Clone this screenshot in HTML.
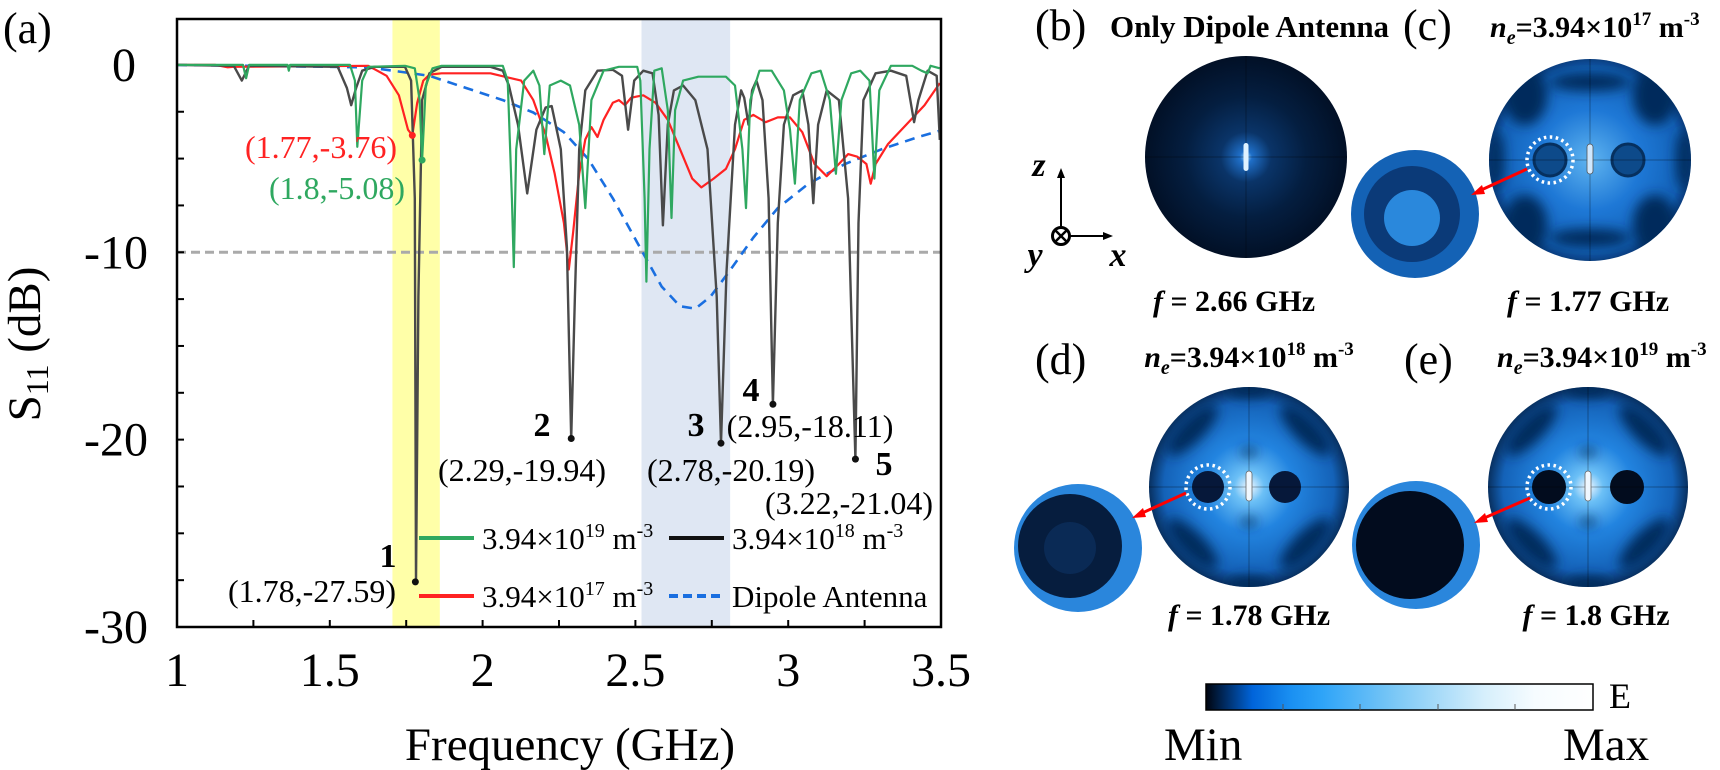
<!DOCTYPE html>
<html><head><meta charset="utf-8"><style>
html,body{margin:0;padding:0;background:#fff;width:1720px;height:770px;overflow:hidden;font-family:"Liberation Serif","Times New Roman",serif}
svg,svg text,svg tspan{font-family:"Liberation Serif","Times New Roman",serif}
</style></head><body>
<svg id="fig" width="1720" height="770" viewBox="0 0 1720 770" xmlns="http://www.w3.org/2000/svg" font-family="'Liberation Serif', 'Times New Roman', serif">
<defs>
<linearGradient id="cbar" x1="0" x2="1" y1="0" y2="0">
<stop offset="0" stop-color="#00040e"/><stop offset="0.12" stop-color="#0064da"/><stop offset="0.22" stop-color="#1a90f2"/><stop offset="0.3" stop-color="#2ea4f8"/><stop offset="0.5" stop-color="#80caf6"/><stop offset="0.72" stop-color="#d6effc"/><stop offset="0.85" stop-color="#f6fcff"/><stop offset="1" stop-color="#fff"/>
</linearGradient>
<radialGradient id="gB" cx="0.5" cy="0.5" r="0.5"><stop offset="0" stop-color="#8fd0ff"/><stop offset="0.06" stop-color="#1f6fc8"/><stop offset="0.25" stop-color="#0a3468"/><stop offset="0.6" stop-color="#041e40"/><stop offset="1" stop-color="#021026"/></radialGradient>
<radialGradient id="gC" cx="0.5" cy="0.5" r="0.5"><stop offset="0" stop-color="#5fb4f0"/><stop offset="0.5" stop-color="#1e78d6"/><stop offset="0.9" stop-color="#1262b8"/><stop offset="1" stop-color="#0a3f80"/></radialGradient>
<radialGradient id="gD" cx="0.5" cy="0.5" r="0.5"><stop offset="0" stop-color="#f2f8ff"/><stop offset="0.15" stop-color="#6cc0f6"/><stop offset="0.45" stop-color="#2284e0"/><stop offset="0.85" stop-color="#1462b8"/><stop offset="1" stop-color="#083060"/></radialGradient>
<filter id="blur6"><feGaussianBlur stdDeviation="6"/></filter>
<clipPath id="plotclip"><rect x="177" y="19" width="764" height="608"/></clipPath>
<clipPath id="cc"><circle cx="1590" cy="160" r="101"/></clipPath>
<clipPath id="cd"><circle cx="1249" cy="487" r="100"/></clipPath>
<clipPath id="ce"><circle cx="1588" cy="487" r="100"/></clipPath>
</defs>

<text x="3" y="43" font-size="44">(a)</text>
<g id="plot"></g>

<g>
<text x="1035" y="40" font-size="44">(b)</text>
<text x="1110" y="37" font-size="31" font-weight="bold">Only Dipole Antenna</text>
<text x="1403" y="40" font-size="44">(c)</text>
<text x="1490" y="37" font-size="30" font-weight="bold"><tspan font-style="italic">n</tspan><tspan font-style="italic" font-size="20" dy="7">e</tspan><tspan dy="-7">=3.94×10</tspan><tspan font-size="19" dy="-12">17</tspan><tspan dy="12"> m</tspan><tspan font-size="19" dy="-12">-3</tspan></text>

<g>
<circle cx="1246" cy="157" r="101" fill="url(#gB)"/>
<line x1="1145" y1="157" x2="1347" y2="157" stroke="#000" stroke-opacity="0.3" stroke-width="1"/>
<line x1="1246" y1="56" x2="1246" y2="258" stroke="#000" stroke-opacity="0.3" stroke-width="1"/>
<rect x="1243.5" y="143" width="5" height="28" rx="2.5" fill="#dff2ff"/>
</g>

<g>
<line x1="1061" y1="227" x2="1061" y2="174" stroke="#000" stroke-width="2"/>
<polygon points="1061,168 1057,178 1065,178" fill="#000"/>
<line x1="1070" y1="236" x2="1106" y2="236" stroke="#000" stroke-width="2"/>
<polygon points="1113,236 1103,232 1103,240" fill="#000"/>
<circle cx="1061" cy="236" r="8.5" fill="none" stroke="#000" stroke-width="3"/>
<line x1="1055" y1="230" x2="1067" y2="242" stroke="#000" stroke-width="2.5"/>
<line x1="1067" y1="230" x2="1055" y2="242" stroke="#000" stroke-width="2.5"/>
<text x="1039" y="176" font-size="34" font-style="italic" font-weight="bold" text-anchor="middle">z</text>
<text x="1035" y="266" font-size="34" font-style="italic" font-weight="bold" text-anchor="middle">y</text>
<text x="1118" y="266" font-size="34" font-style="italic" font-weight="bold" text-anchor="middle">x</text>
</g>

<g>
<circle cx="1415" cy="214" r="64" fill="#1462b5"/>
<circle cx="1412" cy="214" r="48" fill="#0b3a78"/>
<circle cx="1412" cy="218" r="28" fill="#2a88dc"/>
</g>
<g>
<circle cx="1590" cy="160" r="101" fill="url(#gC)"/>
<g clip-path="url(#cc)" filter="url(#blur6)" fill="#052a5c">
<ellipse cx="1525" cy="95" rx="22" ry="30"/><ellipse cx="1655" cy="95" rx="22" ry="30"/>
<ellipse cx="1525" cy="225" rx="22" ry="30"/><ellipse cx="1655" cy="225" rx="22" ry="30"/>
<ellipse cx="1590" cy="82" rx="40" ry="9"/><ellipse cx="1590" cy="238" rx="40" ry="9"/>
<ellipse cx="1496" cy="160" rx="8" ry="30"/><ellipse cx="1684" cy="160" rx="8" ry="30"/>
</g>
<circle cx="1550" cy="160" r="16" fill="#0d4a8a" stroke="#06305f" stroke-width="3"/>
<circle cx="1628" cy="160" r="16" fill="#0d4a8a" stroke="#06305f" stroke-width="3"/>
<line x1="1489" y1="160" x2="1691" y2="160" stroke="#000" stroke-opacity="0.3"/>
<line x1="1590" y1="59" x2="1590" y2="261" stroke="#000" stroke-opacity="0.3"/>
<rect x="1587" y="144" width="6" height="30" rx="3" fill="#cfe8ff" stroke="#555" stroke-width="0.8"/>
<circle cx="1550" cy="160" r="23" fill="none" stroke="#fff" stroke-width="3.5" stroke-dasharray="2.5 3.5"/>
<line x1="1527" y1="169" x2="1479" y2="191" stroke="#f00" stroke-width="3"/>
<polygon points="1471,195 1482,185 1485,194" fill="#f00"/>
</g>
<text x="1234" y="311" font-size="30" font-weight="bold" text-anchor="middle"><tspan font-style="italic">f</tspan> = 2.66 GHz</text>
<text x="1588" y="311" font-size="30" font-weight="bold" text-anchor="middle"><tspan font-style="italic">f</tspan> = 1.77 GHz</text>

<text x="1035" y="374" font-size="44">(d)</text>
<text x="1249" y="367" font-size="30" font-weight="bold" text-anchor="middle"><tspan font-style="italic">n</tspan><tspan font-style="italic" font-size="20" dy="7">e</tspan><tspan dy="-7">=3.94×10</tspan><tspan font-size="19" dy="-12">18</tspan><tspan dy="12"> m</tspan><tspan font-size="19" dy="-12">-3</tspan></text>
<text x="1404" y="374" font-size="44">(e)</text>
<text x="1497" y="367" font-size="30" font-weight="bold"><tspan font-style="italic">n</tspan><tspan font-style="italic" font-size="20" dy="7">e</tspan><tspan dy="-7">=3.94×10</tspan><tspan font-size="19" dy="-12">19</tspan><tspan dy="12"> m</tspan><tspan font-size="19" dy="-12">-3</tspan></text>

<g>
<circle cx="1078" cy="548" r="64" fill="#2a86dc"/>
<circle cx="1070" cy="546" r="52" fill="#061d3e"/>
<circle cx="1070" cy="548" r="26" fill="#0a2a55"/>
</g>
<g>
<circle cx="1249" cy="487" r="100" fill="url(#gD)"/>
<g clip-path="url(#cd)" filter="url(#blur6)" fill="#052a5c">
<ellipse cx="1192" cy="430" rx="12" ry="34" transform="rotate(45 1192 430)"/><ellipse cx="1306" cy="430" rx="12" ry="34" transform="rotate(-45 1306 430)"/>
<ellipse cx="1192" cy="544" rx="12" ry="34" transform="rotate(-45 1192 544)"/><ellipse cx="1306" cy="544" rx="12" ry="34" transform="rotate(45 1306 544)"/>
<ellipse cx="1249" cy="390" rx="22" ry="8"/><ellipse cx="1249" cy="584" rx="22" ry="8"/>
<ellipse cx="1249" cy="452" rx="8" ry="4"/><ellipse cx="1249" cy="522" rx="8" ry="4"/>
</g>
<circle cx="1208" cy="487" r="16" fill="#06183a"/>
<circle cx="1285" cy="487" r="16" fill="#06183a"/>
<line x1="1149" y1="487" x2="1349" y2="487" stroke="#000" stroke-opacity="0.3"/>
<line x1="1249" y1="387" x2="1249" y2="587" stroke="#000" stroke-opacity="0.3"/>
<rect x="1246" y="471" width="6" height="30" rx="3" fill="#f0f8ff" stroke="#666" stroke-width="0.8"/>
<circle cx="1208" cy="487" r="22" fill="none" stroke="#fff" stroke-width="3.5" stroke-dasharray="2.5 3.5"/>
<line x1="1186" y1="493" x2="1140" y2="514" stroke="#f00" stroke-width="3"/>
<polygon points="1132,518 1143,508 1146,517" fill="#f00"/>
</g>
<g>
<circle cx="1416" cy="545" r="64" fill="#2a86dc"/>
<circle cx="1410" cy="545" r="54" fill="#020c1e"/>
</g>
<g>
<circle cx="1588" cy="487" r="100" fill="url(#gD)"/>
<g clip-path="url(#ce)" filter="url(#blur6)" fill="#052a5c">
<ellipse cx="1531" cy="430" rx="12" ry="34" transform="rotate(45 1531 430)"/><ellipse cx="1645" cy="430" rx="12" ry="34" transform="rotate(-45 1645 430)"/>
<ellipse cx="1531" cy="544" rx="12" ry="34" transform="rotate(-45 1531 544)"/><ellipse cx="1645" cy="544" rx="12" ry="34" transform="rotate(45 1645 544)"/>
<ellipse cx="1588" cy="390" rx="22" ry="8"/><ellipse cx="1588" cy="584" rx="22" ry="8"/>
<ellipse cx="1588" cy="452" rx="8" ry="4"/><ellipse cx="1588" cy="522" rx="8" ry="4"/>
</g>
<circle cx="1549" cy="487" r="17" fill="#020c1e"/>
<circle cx="1627" cy="487" r="17" fill="#020c1e"/>
<line x1="1488" y1="487" x2="1688" y2="487" stroke="#000" stroke-opacity="0.3"/>
<line x1="1588" y1="387" x2="1588" y2="587" stroke="#000" stroke-opacity="0.3"/>
<rect x="1585" y="471" width="6" height="30" rx="3" fill="#f0f8ff" stroke="#666" stroke-width="0.8"/>
<circle cx="1549" cy="487" r="22" fill="none" stroke="#fff" stroke-width="3.5" stroke-dasharray="2.5 3.5"/>
<line x1="1530" y1="498" x2="1482" y2="519" stroke="#f00" stroke-width="3"/>
<polygon points="1474,523 1485,513 1488,522" fill="#f00"/>
</g>
<text x="1249" y="625" font-size="30" font-weight="bold" text-anchor="middle"><tspan font-style="italic">f</tspan> = 1.78 GHz</text>
<text x="1596" y="625" font-size="30" font-weight="bold" text-anchor="middle"><tspan font-style="italic">f</tspan> = 1.8 GHz</text>

<g>
<rect x="1206" y="684" width="387" height="26" fill="url(#cbar)" stroke="#000" stroke-width="1.5"/>
<line x1="1283" y1="704" x2="1283" y2="710" stroke="#555"/><line x1="1360" y1="704" x2="1360" y2="710" stroke="#555"/><line x1="1438" y1="704" x2="1438" y2="710" stroke="#555"/><line x1="1515" y1="704" x2="1515" y2="710" stroke="#555"/>
<text x="1609" y="708" font-size="36">E</text>
<text x="1164" y="760" font-size="47">Min</text>
<text x="1563" y="760" font-size="47">Max</text>
</g>
</g>
</svg>
<script>
// ---- data ----
const blackF=[1.0,1.186,1.212,1.236,1.526,1.556,1.57,1.586,1.606,1.646,1.746,1.766,1.778,1.782,1.79,1.802,1.826,1.866,2.026,2.066,2.086,2.116,2.146,2.176,2.206,2.226,2.256,2.276,2.29,2.302,2.316,2.336,2.376,2.426,2.456,2.476,2.496,2.526,2.556,2.576,2.59,2.606,2.626,2.656,2.696,2.736,2.766,2.78,2.798,2.826,2.846,2.856,2.87,2.882,2.896,2.916,2.936,2.95,2.966,2.986,3.016,3.046,3.066,3.082,3.098,3.126,3.166,3.196,3.22,3.23,3.246,3.286,3.336,3.386,3.412,3.426,3.456,3.486,3.496];
const blackDB=[0,-0.05,-0.84,-0.05,-0.1,-1.23,-2.15,-1.23,-0.31,-0.1,-0.1,-0.84,-7.12,-27.59,-12.36,-1.88,-0.45,-0.1,-0.1,-0.31,-1.1,-3.19,-6.86,-3.46,-2.28,-2.2,-4.5,-9.74,-19.94,-12.36,-4.5,-1.36,-0.31,-0.26,-0.58,-3.46,-0.84,-0.31,-0.45,-2.67,-8.56,-3.19,-1.36,-1.1,-1.88,-4.5,-12.36,-20.19,-11.05,-3.19,-1.36,-1.75,-3.19,-1.36,-0.84,-1.88,-7.12,-18.11,-8.43,-3.19,-1.62,-1.36,-3.19,-7.38,-3.19,-1.36,-1.88,-7.12,-21.04,-8.43,-1.88,-0.45,-0.31,-0.58,-3.06,-1.88,-0.31,-0.58,-4.0];
const greenF=[1.0,1.216,1.226,1.236,1.362,1.366,1.37,1.566,1.582,1.59,1.606,1.626,1.746,1.778,1.794,1.802,1.814,1.836,1.866,2.066,2.082,2.096,2.102,2.11,2.136,2.166,2.186,2.202,2.22,2.256,2.286,2.316,2.336,2.356,2.396,2.446,2.506,2.516,2.53,2.536,2.546,2.562,2.586,2.606,2.618,2.63,2.656,2.706,2.796,2.826,2.85,2.862,2.876,2.906,2.946,2.986,3.006,3.022,3.038,3.076,3.106,3.136,3.156,3.174,3.206,3.236,3.266,3.282,3.298,3.336,3.406,3.436,3.456,3.466,3.496];
const greenDB=[0,0,-0.71,0,0,-0.31,0,0,-0.84,-4.37,-0.84,-0.1,-0.05,-0.18,-1.88,-5.08,-1.1,-0.18,-0.05,-0.05,-0.84,-7.12,-10.79,-4.5,-0.84,-0.31,-1.1,-4.76,-1.1,-0.84,-1.1,-3.19,-7.64,-1.88,-0.31,-0.1,-0.1,-0.84,-7.12,-11.57,-4.5,-0.31,-0.18,-2.41,-8.17,-2.41,-0.84,-0.63,-0.63,-1.1,-4.5,-7.64,-1.88,-0.31,-0.31,-1.36,-3.46,-6.34,-1.88,-0.45,-0.31,-1.88,-5.81,-1.88,-0.45,-0.31,-0.84,-6.07,-1.36,-0.05,-0.05,-0.31,-0.45,-0.05,-0.18];
const redF=[1.0,1.126,1.166,1.186,1.626,1.686,1.726,1.756,1.77,1.786,1.806,1.826,1.866,2.026,2.126,2.166,2.206,2.236,2.266,2.282,2.296,2.316,2.336,2.356,2.376,2.396,2.426,2.446,2.466,2.486,2.526,2.566,2.606,2.646,2.686,2.716,2.756,2.796,2.826,2.856,2.886,2.926,2.966,3.006,3.046,3.086,3.126,3.166,3.196,3.226,3.256,3.27,3.286,3.326,3.386,3.446,3.496];
const redDB=[0,0,-0.13,-0.1,-0.05,-0.58,-1.62,-3.46,-3.76,-2.02,-0.84,-0.52,-0.45,-0.45,-0.84,-1.88,-3.72,-5.81,-8.43,-10.92,-8.95,-5.81,-3.98,-3.32,-3.85,-2.93,-2.02,-1.88,-2.15,-1.75,-1.62,-2.02,-2.93,-4.5,-6.07,-6.54,-6.07,-5.55,-4.5,-2.93,-2.67,-3.06,-2.8,-2.8,-3.59,-5.29,-5.94,-5.29,-4.76,-4.9,-5.29,-6.34,-5.29,-4.24,-3.19,-2.15,-0.97];
const dipoleF=[1.0,1.626,1.826,1.946,2.066,2.166,2.266,2.346,2.426,2.506,2.586,2.646,2.696,2.746,2.806,2.886,2.966,3.066,3.186,3.306,3.426,3.496];
const dipoleDB=[0,-0.13,-0.58,-1.23,-1.88,-2.54,-3.59,-5.03,-7.12,-9.48,-11.83,-12.88,-13.01,-12.36,-11.05,-9.21,-7.64,-6.34,-5.29,-4.5,-3.85,-3.51];
const xTicks=[1,1.5,2,2.5,3,3.5];
const xTickLabels=["1","1.5","2","2.5","3","3.5"];
const yTicks=[0,-10,-20,-30];
const yTickLabels=["0","-10","-20","-30"];
const bands=[[1.705,1.86],[2.52,2.81]];
const dipF=[1.78,2.29,2.78,2.95,3.22];
const dipDB=[-27.59,-19.94,-20.19,-18.11,-21.04];

const X0=177,X1=941,Y0=19,Y1=627;
const xmin=1,xmax=3.5,ymin=-30,ymax=2.45;
const sx=v=>X0+(v-xmin)/(xmax-xmin)*(X1-X0);
const sy=v=>Y1-(v-ymin)/(ymax-ymin)*(Y1-Y0);
const NS="http://www.w3.org/2000/svg";
const FONT="'Liberation Serif', 'Times New Roman', serif";
const g=document.getElementById('plot');
function mk(tag,attrs,parent){const e=document.createElementNS(NS,tag);for(const k in attrs)e.setAttribute(k,attrs[k]);if(tag==='text')e.setAttribute('font-family',FONT);(parent||g).appendChild(e);return e;}

bands.forEach((b,i)=>{
  const r=mk('rect',{x:sx(b[0]),y:Y0,width:sx(b[1])-sx(b[0]),height:Y1-Y0,fill:i===0?'#ffffa8':'#dfe7f3'});
  
  
});
const ref=mk('line',{x1:X0,x2:X1,y1:sy(-10),y2:sy(-10),stroke:'#aaa','stroke-width':3,'stroke-dasharray':'9 5'});



function series(F,D,color,name,dash,w){
  const d=F.map((f,i)=>(i?'L':'M')+sx(f).toFixed(1)+','+sy(D[i]).toFixed(1)).join('');
  const p=mk('path',{d:d,fill:'none',stroke:color,'stroke-width':w,'stroke-linejoin':'round','clip-path':'url(#plotclip)'});
  if(dash)p.setAttribute('stroke-dasharray',dash);
  
  
}
series(dipoleF,dipoleDB,'#1a6fe0','dipole-antenna-line','10 7',2.6);
series(redF,redDB,'#f22','ne-1e17-line',null,2.2);
series(blackF,blackDB,'#4a4a4a','ne-1e18-line',null,2.4);
series(greenF,greenDB,'#2fa860','ne-1e19-line',null,2.2);

const fr=mk('rect',{x:X0,y:Y0,width:X1-X0,height:Y1-Y0,fill:'none',stroke:'#000','stroke-width':2.5});


for(let v=1.25;v<3.5;v+=0.25){const t=mk('line',{x1:sx(v),x2:sx(v),y1:Y1,y2:Y1-7,stroke:'#000','stroke-width':2});}
for(let v=-27.5;v<0;v+=2.5){const t=mk('line',{x1:X0,x2:X0+7,y1:sy(v),y2:sy(v),stroke:'#000','stroke-width':2});}
xTicks.forEach((v,i)=>{const t=mk('text',{x:sx(v),y:686,'font-size':48,'text-anchor':'middle'});t.textContent=xTickLabels[i];});
yTicks.forEach((v,i)=>{const t=mk('text',{x:v===0?136:148,y:sy(v)+16,'font-size':48,'text-anchor':'end'});t.textContent=yTickLabels[i];});
const xt=mk('text',{x:570,y:760,'font-size':47,'text-anchor':'middle'});xt.textContent='Frequency (GHz)';


const yt=mk('text',{x:0,y:0,'font-size':47,'text-anchor':'middle',transform:'translate(40,344) rotate(-90)'});
yt.innerHTML='S<tspan font-size="32" dy="8">11</tspan><tspan dy="-8"> (dB)</tspan>';



dipF.forEach((f,i)=>{const c=mk('circle',{cx:sx(f),cy:sy(dipDB[i]),r:3.5,fill:'#111'});});
const m1=mk('circle',{cx:sx(1.77),cy:sy(-3.76),r:3.5,fill:'#f22'});
const m2=mk('circle',{cx:sx(1.802),cy:sy(-5.08),r:3.5,fill:'#2fa860'});

function lab(x,y,txt,size,color,bold,name){const t=mk('text',{x:x,y:y,'font-size':size,'text-anchor':'middle',fill:color});if(bold)t.setAttribute('font-weight','bold');t.textContent=txt;}
lab(321,158,'(1.77,-3.76)',32,'#f22',false,'red-point-label');
lab(337,199,'(1.8,-5.08)',32,'#2fa860',false,'green-point-label');
lab(388,567,'1',34,'#000',true,'dip-1-number');
lab(312,602,'(1.78,-27.59)',32,'#000',false,'dip-1-label');
lab(542,436,'2',34,'#000',true,'dip-2-number');
lab(522,481,'(2.29,-19.94)',32,'#000',false,'dip-2-label');
lab(696,436,'3',34,'#000',true,'dip-3-number');
lab(731,481,'(2.78,-20.19)',32,'#000',false,'dip-3-label');
lab(751,401,'4',34,'#000',true,'dip-4-number');
lab(810,437,'(2.95,-18.11)',32,'#000',false,'dip-4-label');
lab(884,475,'5',34,'#000',true,'dip-5-number');
lab(849,514,'(3.22,-21.04)',32,'#000',false,'dip-5-label');

const leg=[[419,538,'#2fa860',null,'3.94×10','19'],[669,538,'#111',null,'3.94×10','18'],[419,596,'#f22',null,'3.94×10','17'],[669,596,'#1a6fe0','9 5','Dipole Antenna',null]];
leg.forEach(l=>{
  const ln=mk('line',{x1:l[0],x2:l[0]+55,y1:l[1],y2:l[1],stroke:l[2],'stroke-width':4});
  if(l[3])ln.setAttribute('stroke-dasharray',l[3]);
  
  
  const t=mk('text',{x:l[0]+63,y:l[1]+11,'font-size':31});
  if(l[5]) t.innerHTML=l[4]+'<tspan font-size="20" dy="-12">'+l[5]+'</tspan><tspan dy="12"> m</tspan><tspan font-size="20" dy="-12">-3</tspan>';
  else t.textContent=l[4];
  
  
});
</script>
</body></html>
